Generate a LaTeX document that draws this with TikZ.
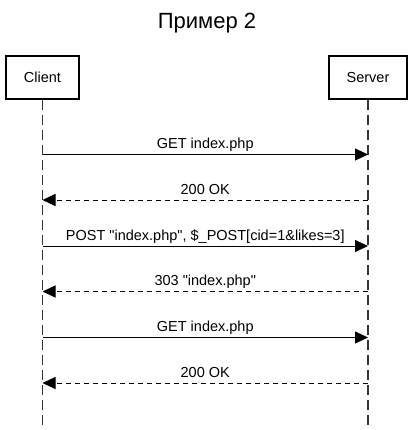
\documentclass[tikz,border=0pt]{standalone}
\usepackage{fontspec}
\setmainfont{Liberation Sans}
\usetikzlibrary{arrows.meta}

\tikzset{
  actor/.style={rectangle, draw, line width=2pt, minimum height=43pt, font=\fontsize{14.5}{17}\selectfont},
  lifeline/.style={draw=black!80, line width=1.2pt, dash pattern=on 10pt off 5pt},
  call/.style={line width=1pt, -{Triangle[length=13pt, width=12pt]}},
  reply/.style={call, dash pattern=on 5pt off 4pt},
  msg/.style={font=\fontsize{14.5}{17}\selectfont, inner sep=2pt, text depth=3.5pt}
}
\newcommand{\qq}{\textquotedbl}

\begin{document}
\begin{tikzpicture}[x=1pt, y=-1pt]
      \useasboundingbox (0,0) rectangle (413,430);

      \node[font=\fontsize{22}{26}\selectfont] (title) at (207, 23) {Пример 2};

      \node[actor, minimum width=73pt] (client) at (42.5, 77.5) {Client};
      \node[actor, minimum width=78pt] (server) at (368, 77.5) {Server};

      \coordinate (client-end) at (42.5, 430);
      \coordinate (server-end) at (368, 430);
      \draw[lifeline] (client) -- (client-end);
      \draw[lifeline] (server) -- (server-end);

      \foreach \i/\y in {1/154.5, 2/200, 3/246, 4/291.5, 5/337.5, 6/383} {
        \coordinate (c\i) at (42.5, \y);
        \coordinate (s\i) at (368, \y);
      }

      \foreach \source/\dest/\kind/\label in {c1/s1/call/GET index.php, s2/c2/reply/200 OK, c3/s3/call/POST \qq index.php\qq{,} \$\_POST[cid=1\&likes=3], s4/c4/reply/303 \qq index.php\qq, c5/s5/call/GET index.php, s6/c6/reply/200 OK}
        \draw[\kind] (\source) -- node[msg, midway, above] {\label} (\dest);
    \end{tikzpicture}
\end{document}
